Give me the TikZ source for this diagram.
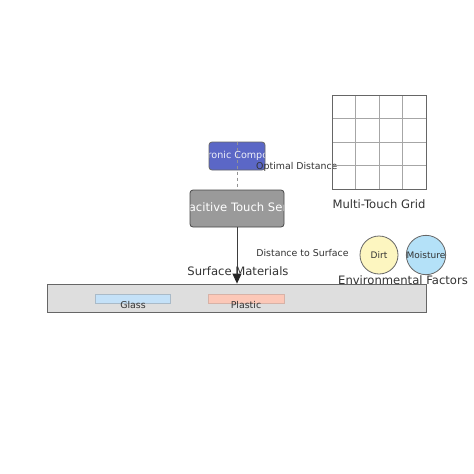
\documentclass[tikz,border=0pt]{standalone}
\usepackage{fontspec}
\setmainfont{DejaVu Sans}
\usetikzlibrary{arrows.meta}
\definecolor{txt}{HTML}{333333}
\definecolor{edge}{HTML}{666666}
\definecolor{elec}{HTML}{5B67C6}
\definecolor{sens}{HTML}{9A9A9A}
\definecolor{surf}{HTML}{DEDEDE}
\definecolor{glass}{HTML}{C4E1F8}
\definecolor{plast}{HTML}{FCC8B8}
\definecolor{dirt}{HTML}{FDF6C0}
\definecolor{moist}{HTML}{B4E1F8}
\tikzset{
  lbl/.style={text=txt, inner sep=0pt, font=\fontsize{9.4}{10}\selectfont},
  biglbl/.style={text=txt, inner sep=0pt, font=\fontsize{11.6}{12}\selectfont},
  box/.style={draw=edge, line width=0.8pt, rounded corners=3pt, inner sep=0pt},
  circ/.style={draw=edge, line width=0.8pt, circle, minimum size=38pt, inner sep=0pt, text=txt, font=\fontsize{9}{10}\selectfont},
}
\begin{document}
\begin{tikzpicture}[x=1pt,y=-1pt]
\useasboundingbox[fill=white] (0,0) rectangle (474,474);
% electronic component
\node[box, fill=elec, minimum width=56pt, minimum height=28pt,
  path picture={\node[text=white!90!elec, font=\fontsize{9.6}{10}\selectfont] at (path picture bounding box.center) {Electronic Component};}] (elec) at (237,156) {};
% sensor
\node[box, draw=edge!70!black, fill=sens, minimum width=94pt, minimum height=37pt,
  path picture={\node[text=white, font=\fontsize{11.6}{12}\selectfont] at (path picture bounding box.center) {Capacitive Touch Sensor};}] (sensor) at (237,208.5) {};
\draw[gray!85, line width=0.9pt, dash pattern=on 3pt off 3pt] (elec.north) -- (sensor.north);
\node[lbl, anchor=west] (optd) at (256,167) {Optimal Distance};
% surface
\node[draw=edge, line width=0.8pt, fill=surf, minimum width=379pt, minimum height=28pt, inner sep=0pt] (surface) at (236.5,298) {};
\node[draw=glass!60!gray, line width=0.6pt, fill=glass, minimum width=75pt, minimum height=9pt, inner sep=0pt] (glass) at (132.5,298.5) {};
\node[draw=plast!70!gray, line width=0.6pt, fill=plast, minimum width=76pt, minimum height=9pt, inner sep=0pt] (plastic) at (246,298.5) {};
\node[lbl] (glasst) at (133,305) {Glass};
\node[lbl] (plastt) at (246,305) {Plastic};
\draw[edge!60!black, line width=0.9pt, -{Triangle[length=10pt,width=9pt,color=black!85]}] (sensor.south) -- (sensor.south |- surface.north);
\node[biglbl] (surft) at (238,271) {Surface Materials};
\node[lbl] (dist) at (302.5,253) {Distance to Surface};
% environmental
\node[circ, fill=dirt] (dirt) at (379,255) {Dirt};
\node[circ, fill=moist] (moist) at (426,255) {Moisture};
\node[biglbl] (envt) at (403,280) {Environmental Factors};
% grid
\foreach \i in {1,2,3} {
  \draw[gray!70, line width=0.6pt] (332+23.5*\i,95) -- (332+23.5*\i,189);
  \draw[gray!70, line width=0.6pt] (332,95+23.5*\i) -- (426,95+23.5*\i);
}
\node[draw=edge, line width=0.9pt, minimum width=94pt, minimum height=94pt, inner sep=0pt] (grid) at (379,142) {};
\node[biglbl] (gridt) at (379,204) {Multi-Touch Grid};
\end{tikzpicture}
\end{document}
